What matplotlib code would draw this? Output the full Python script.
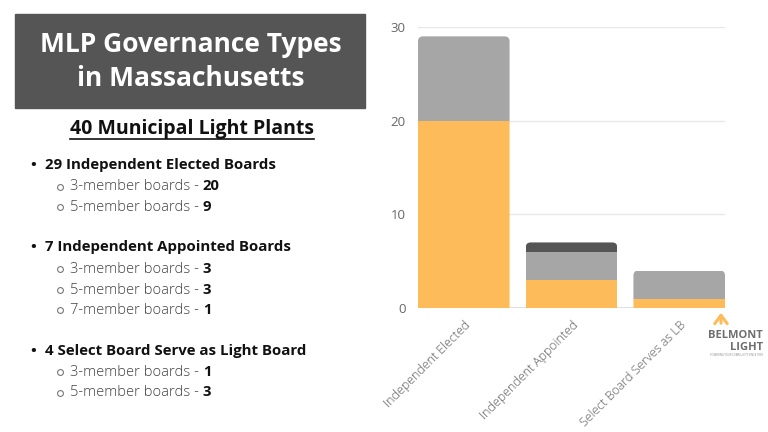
import matplotlib.pyplot as plt
import matplotlib.transforms as mtransforms
import numpy as np
from matplotlib.patches import FancyBboxPatch, Rectangle

plt.rcParams['font.family'] = ['Open Sans', 'DejaVu Sans']

# data
categories = ['Independent Elected', 'Independent Appointed', 'Select Board Serves as LB']
three_member = np.array([20, 3, 1])
five_member = np.array([9, 3, 3])
seven_member = np.array([0, 1, 0])
y_ticks = [0, 10, 20, 30]

title_lines = ['MLP Governance Types', 'in Massachusetts']
subtitle = '40 Municipal Light Plants'
groups = [
    ('29 Independent Elected Boards', [('3-member boards - ', '20'), ('5-member boards - ', '9')]),
    ('7 Independent Appointed Boards', [('3-member boards - ', '3'), ('5-member boards - ', '3'),
                                        ('7-member boards - ', '1')]),
    ('4 Select Board Serve as Light Board', [('3-member boards - ', '1'), ('5-member boards - ', '3')]),
]

orange = '#fdbb5a'
gray = '#a6a6a6'
dark = '#555555'

fig = plt.figure(figsize=(7.68, 4.32), dpi=100)
renderer = fig.canvas.get_renderer()

# left panel, pixel coordinates
bg = fig.add_axes([0, 0, 1, 1])
bg.set_xlim(0, 768)
bg.set_ylim(432, 0)
bg.axis('off')

bg.add_patch(Rectangle((15, 14), 350, 94, color=dark))
bg.text(191, 45, title_lines[0], color='white', fontsize=19, fontweight='bold', ha='center', va='center')
bg.text(191, 79, title_lines[1], color='white', fontsize=19, fontweight='bold', ha='center', va='center')

bg.text(192, 129, subtitle, color='#111111', fontsize=14, fontweight='bold', ha='center', va='center')
bg.plot([70, 314], [139, 139], color='#111111', lw=1.2)

y = 165
for head, items in groups:
    bg.text(30, y, '•', fontsize=11, color='#111111', va='center', ha='left', fontweight='bold')
    bg.text(45, y, head, fontsize=10.8, color='#111111', fontweight='bold', va='center', ha='left')
    y += 21.5
    for label, num in items:
        bg.plot(60, y, 'o', ms=4.2, mfc='white', mec='#777777', mew=0.8)
        t = bg.text(70, y + 4, label, fontsize=10.6, color='#444444', va='baseline', ha='left',
                    fontweight='light')
        x_end = bg.transData.inverted().transform(t.get_window_extent(renderer).p1)[0]
        bg.text(x_end, y + 4, num, fontsize=10.6, color='#111111',
                fontweight='bold', va='baseline', ha='left')
        y += 20.5
    y += 20

# logo
bg.annotate('', xy=(721, 310), xytext=(721, 326),
            arrowprops=dict(arrowstyle='->,head_width=0.45,head_length=0.6', color=orange, lw=2.2))
bg.text(763, 335.5, 'BELMONT', fontsize=8, color='#6e6e6e', ha='right', va='center', fontweight='bold')
bg.text(763, 347, 'LIGHT', fontsize=8, color='#6e6e6e', ha='right', va='center', fontweight='bold')
bg.text(763, 354.5, 'POWERING YOUR COMMUNITY SINCE 1898', fontsize=1.9, color='#888888',
        ha='right', va='center')

# chart
ax = fig.add_axes([418 / 768, 1 - 308 / 432, 307 / 768, 281 / 432])
x = np.arange(len(categories))
w = 0.85
b1 = ax.bar(x, three_member, w, color=orange, lw=0, zorder=3)
b2 = ax.bar(x, five_member, w, bottom=three_member, color=gray, lw=0, zorder=3)
b3 = ax.bar(x, seven_member, w, bottom=three_member + five_member, color=dark, lw=0, zorder=3)
ax.set_xlim(-w / 2, len(categories) - 1 + w / 2)
ax.set_ylim(0, 30)

# rounded top corners
fig.canvas.draw()
bb = ax.get_window_extent()
xr = ax.get_xlim()[1] - ax.get_xlim()[0]
asp = (30 / bb.height) / (xr / bb.width)
r = 5 * xr / bb.width
totals = three_member + five_member + seven_member
for i in range(len(categories)):
    clip = FancyBboxPatch((x[i] - w / 2, -20), w, totals[i] + 20,
                          boxstyle=f'round,pad=0,rounding_size={r}',
                          mutation_aspect=asp, transform=ax.transData)
    for bars in (b1, b2, b3):
        bars[i].set_clip_path(clip)

ax.set_yticks(y_ticks)
ax.grid(axis='y', color='#e8e8e8', lw=1, zorder=0)
ax.axhline(0, color='#dddddd', lw=1.2, zorder=2)
for s in ax.spines.values():
    s.set_visible(False)
ax.tick_params(axis='y', length=0, labelcolor='#666666', labelsize=9.5, pad=9)
ax.tick_params(axis='x', length=0, labelcolor='#555555', labelsize=8.9, pad=11)
ax.set_xticks(x)
ax.set_xticklabels(categories, rotation=45, ha='right', va='center', rotation_mode='anchor',
                   fontweight='light')
shift = mtransforms.ScaledTranslation(5 / 100, 0, fig.dpi_scale_trans)
for lab in ax.get_xticklabels():
    lab.set_transform(lab.get_transform() + shift)

fig.savefig('out.png', dpi=100)
